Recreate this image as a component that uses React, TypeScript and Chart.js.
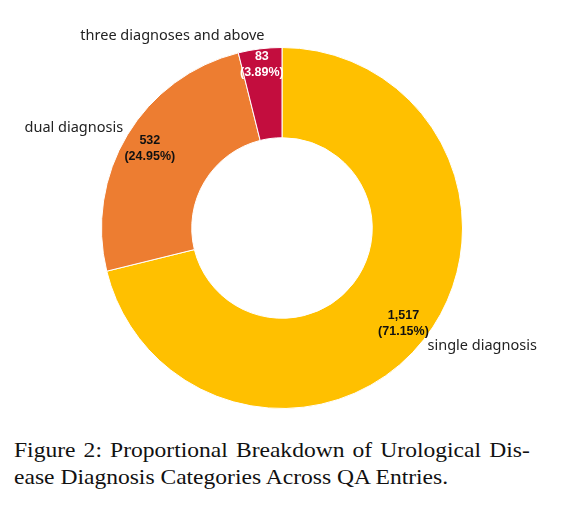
import { useEffect, useRef } from 'react';
import Chart from 'chart.js/auto';

const categories = ['single diagnosis', 'dual diagnosis', 'three diagnoses and above'];
const counts = [1517, 532, 83];
const percents = ['71.15%', '24.95%', '3.89%'];
const colors = ['#FFC000', '#ED7D31', '#C30D3E'];
const valueColors = ['#111', '#111', '#fff'];

const labelPlugin = {
  id: 'sliceLabels',
  afterDatasetsDraw(chart: any) {
    const { ctx } = chart;
    const meta = chart.getDatasetMeta(0);
    meta.data.forEach((arc: any, i: number) => {
      const { x, y, startAngle, endAngle, outerRadius } = arc.getProps(
        ['x', 'y', 'startAngle', 'endAngle', 'outerRadius'],
        true
      );
      const mid = (startAngle + endAngle) / 2;
      const cos = Math.cos(mid);
      const sin = Math.sin(mid);

      // value + percent inside the ring (narrow slices pushed out a bit)
      const r1 = outerRadius * (endAngle - startAngle < 0.5 ? 0.915 : 0.855);
      ctx.save();
      ctx.fillStyle = valueColors[i];
      ctx.font = 'bold 12.5px "Liberation Sans", Arial, sans-serif';
      ctx.textAlign = 'center';
      ctx.textBaseline = 'middle';
      ctx.fillText(counts[i].toLocaleString('en-US'), x + cos * r1, y + sin * r1 - 8);
      ctx.fillText('(' + percents[i] + ')', x + cos * r1, y + sin * r1 + 8);

      // category name outside
      const r2 = outerRadius + 12;
      const right = cos >= 0;
      ctx.fillStyle = '#222';
      ctx.font = '14.5px "Noto Sans", sans-serif';
      ctx.textAlign = right ? 'left' : 'right';
      ctx.fillText(categories[i], x + cos * r2 + (right ? -6 : 6), y + sin * r2 - 1);
      ctx.restore();
    });
  }
};

export default function App() {
  const canvasRef = useRef<HTMLCanvasElement | null>(null);

  useEffect(() => {
    document.body.style.margin = '0';
    let chart: Chart | null = null;
    if (canvasRef.current) {
      chart = new Chart(canvasRef.current, {
        type: 'doughnut',
        data: {
          labels: categories,
          datasets: [
            {
              data: counts,
              backgroundColor: colors,
              borderColor: '#fff',
              borderWidth: 1
            }
          ]
        },
        options: {
          responsive: false,
          animation: false,
          cutout: '50%',
          layout: { padding: { top: 47, bottom: 21, left: 101, right: 99 } },
          plugins: { legend: { display: false }, tooltip: { enabled: false } }
        },
        plugins: [labelPlugin]
      });
    }
    return () => {
      chart?.destroy();
    };
  }, []);

  return (
    <div style={{ width: 562, height: 505, position: 'relative', background: '#fff', overflow: 'hidden' }}>
      <canvas ref={canvasRef} width={562} height={430} style={{ display: 'block' }} />
      <div
        style={{
          position: 'absolute',
          left: 14,
          top: 437,
          fontFamily: '"Liberation Serif", "Times New Roman", serif',
          fontSize: 22,
          lineHeight: '26.5px',
          color: '#111',
          transform: 'scaleX(1.07)',
          transformOrigin: 'left top'
        }}
      >
        <div style={{ width: 482, textAlign: 'justify', textAlignLast: 'justify', whiteSpace: 'nowrap' }}>
          Figure 2: Proportional Breakdown of Urological Dis-
        </div>
        <div style={{ whiteSpace: 'nowrap' }}>ease Diagnosis Categories Across QA Entries.</div>
      </div>
    </div>
  );
}
